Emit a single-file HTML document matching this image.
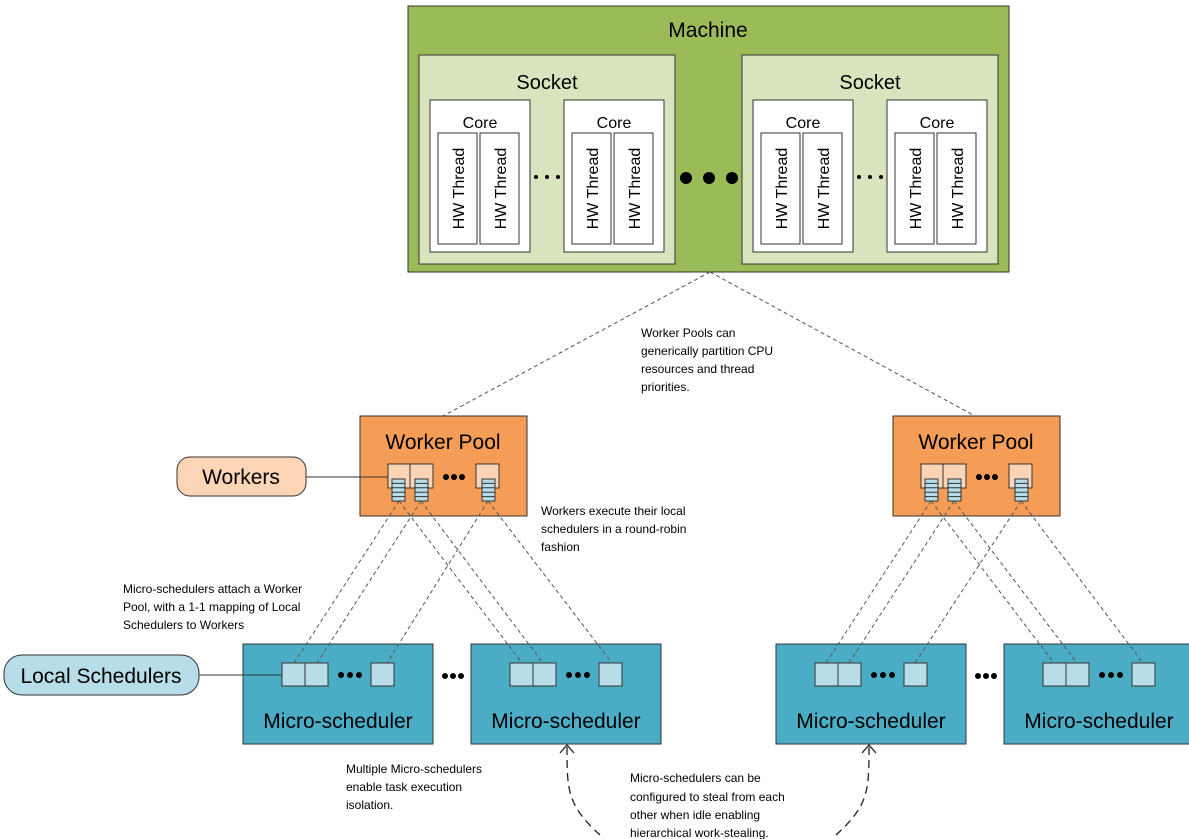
<!DOCTYPE html>
<html><head><meta charset="utf-8"><style>
html,body{margin:0;padding:0;background:#fff;}
svg{display:block;font-family:"Liberation Sans",sans-serif;}
.s{font-size:12px;fill:#000;}
</style></head><body>
<svg width="1189" height="839" viewBox="0 0 1189 839" xmlns="http://www.w3.org/2000/svg">
<defs>
<g id="thr">
<rect x="0" y="0" width="39" height="111" fill="#fff" stroke="#333"/>
<text transform="translate(26,55.5) rotate(-90)" text-anchor="middle" font-size="16">HW Thread</text>
</g>
<g id="core">
<rect x="0" y="0" width="100" height="152" fill="#fff" stroke="#333"/>
<text x="50" y="28" text-anchor="middle" font-size="16">Core</text>
<use href="#thr" x="8" y="33"/>
<use href="#thr" x="50" y="33"/>
</g>
<g id="sock">
<rect x="0" y="0" width="256" height="209" fill="#d7e4bd" stroke="#333"/>
<text x="128" y="34" text-anchor="middle" font-size="20">Socket</text>
<use href="#core" x="11" y="45"/>
<use href="#core" x="145" y="45"/>
<circle cx="117" cy="122" r="2" fill="#000"/><circle cx="128" cy="122" r="2" fill="#000"/><circle cx="139" cy="122" r="2" fill="#000"/>
</g>
<g id="q">
<rect x="0" y="0" width="13" height="22" fill="#b7dde8" stroke="#333"/>
<path d="M0 4.4H13M0 8.8H13M0 13.2H13M0 17.6H13" stroke="#333" stroke-width="1"/>
</g>
<g id="pool">
<rect x="0" y="0" width="167" height="100" fill="#f59d56" stroke="#333"/>
<text x="83" y="33" text-anchor="middle" font-size="21">Worker Pool</text>
<rect x="28" y="48" width="22" height="24" fill="#fbd5b5" stroke="#333"/>
<rect x="50" y="48" width="23" height="24" fill="#fbd5b5" stroke="#333"/>
<rect x="116" y="48" width="23" height="24" fill="#fbd5b5" stroke="#333"/>
<use href="#q" x="32" y="63"/><use href="#q" x="55" y="63"/><use href="#q" x="122" y="63"/>
<circle cx="86" cy="61" r="3" fill="#000"/><circle cx="94" cy="61" r="3" fill="#000"/><circle cx="102" cy="61" r="3" fill="#000"/>
</g>
<g id="ms">
<rect x="0" y="0" width="190" height="100" fill="#4bacc6" stroke="#333"/>
<rect x="39" y="19" width="23" height="23" fill="#b7dde8" stroke="#333"/>
<rect x="62" y="19" width="23" height="23" fill="#b7dde8" stroke="#333"/>
<rect x="128" y="19" width="23" height="23" fill="#b7dde8" stroke="#333"/>
<circle cx="98" cy="31" r="3" fill="#000"/><circle cx="107" cy="31" r="3" fill="#000"/><circle cx="116" cy="31" r="3" fill="#000"/>
<text x="95" y="84" text-anchor="middle" font-size="21">Micro-scheduler</text>
</g>
</defs>

<!-- machine -->
<rect x="408" y="6" width="601" height="266" fill="#9bbb59" stroke="#333"/>
<text x="708" y="37" text-anchor="middle" font-size="21">Machine</text>
<use href="#sock" x="419" y="55"/>
<use href="#sock" x="742" y="55"/>
<circle cx="686" cy="178" r="6" fill="#000"/><circle cx="709" cy="178" r="6" fill="#000"/><circle cx="732" cy="178" r="6" fill="#000"/>

<g stroke="#555" stroke-width="1" stroke-dasharray="4,3" fill="none">
<path d="M710 272L443 416M710 272L975 416"/>
</g>

<use href="#pool" x="360" y="416"/>
<use href="#pool" x="893" y="416"/>

<use href="#ms" x="243" y="644"/>
<use href="#ms" x="471" y="644"/>
<use href="#ms" x="776" y="644"/>
<use href="#ms" x="1004" y="644"/>
<circle cx="445" cy="676" r="3" fill="#000"/><circle cx="453" cy="676" r="3" fill="#000"/><circle cx="461" cy="676" r="3" fill="#000"/>
<circle cx="978" cy="676" r="3" fill="#000"/><circle cx="986" cy="676" r="3" fill="#000"/><circle cx="994" cy="676" r="3" fill="#000"/>

<!-- dashed connectors on top -->
<g stroke="#555" stroke-width="1" stroke-dasharray="4,3" fill="none">
<path d="M399 501L294 663M399 501L522 663M421 501L317 663M421 501L543 663M488 501L387 663M488 501L612 663"/>
<path d="M931 501L826 663M931 501L1054 663M954 501L849 663M954 501L1077 663M1021 501L915 663M1021 501L1143 663"/>
</g>

<!-- labels -->
<line x1="306" y1="477" x2="388" y2="477" stroke="#333"/>
<rect x="177" y="457" width="129" height="39" rx="13" fill="#fbd5b5" stroke="#333"/>
<text x="241" y="484" text-anchor="middle" font-size="21">Workers</text>
<line x1="199" y1="675" x2="282" y2="675" stroke="#333"/>
<rect x="4" y="655" width="195" height="40" rx="18" fill="#b7dde8" stroke="#333"/>
<text x="101" y="683" text-anchor="middle" font-size="21">Local Schedulers</text>

<!-- steal arc -->
<path d="M567 747C567 790 567 805 600 835M869 747C869 790 869 805 836 835" stroke="#222" stroke-width="1.3" stroke-dasharray="8,5" fill="none"/>
<path d="M560 753L567 745L574 753M862 753L869 745L876 753" stroke="#222" stroke-width="1.3" fill="none"/>

<!-- notes -->
<text class="s"><tspan x="641" y="337">Worker Pools can</tspan><tspan x="641" y="355">generically partition CPU</tspan><tspan x="641" y="373">resources and thread</tspan><tspan x="641" y="391">priorities.</tspan></text>
<text class="s"><tspan x="541" y="515">Workers execute their local</tspan><tspan x="541" y="533">schedulers in a round-robin</tspan><tspan x="541" y="551">fashion</tspan></text>
<text class="s"><tspan x="123" y="593">Micro-schedulers attach a Worker</tspan><tspan x="123" y="611">Pool, with a 1-1 mapping of Local</tspan><tspan x="123" y="629">Schedulers to Workers</tspan></text>
<text class="s"><tspan x="346" y="773">Multiple Micro-schedulers</tspan><tspan x="346" y="791">enable task execution</tspan><tspan x="346" y="809">isolation.</tspan></text>
<text class="s"><tspan x="630" y="782">Micro-schedulers can be</tspan><tspan x="630" y="801">configured to steal from each</tspan><tspan x="630" y="819">other when idle enabling</tspan><tspan x="630" y="837">hierarchical work-stealing.</tspan></text>
</svg>
</body></html>
